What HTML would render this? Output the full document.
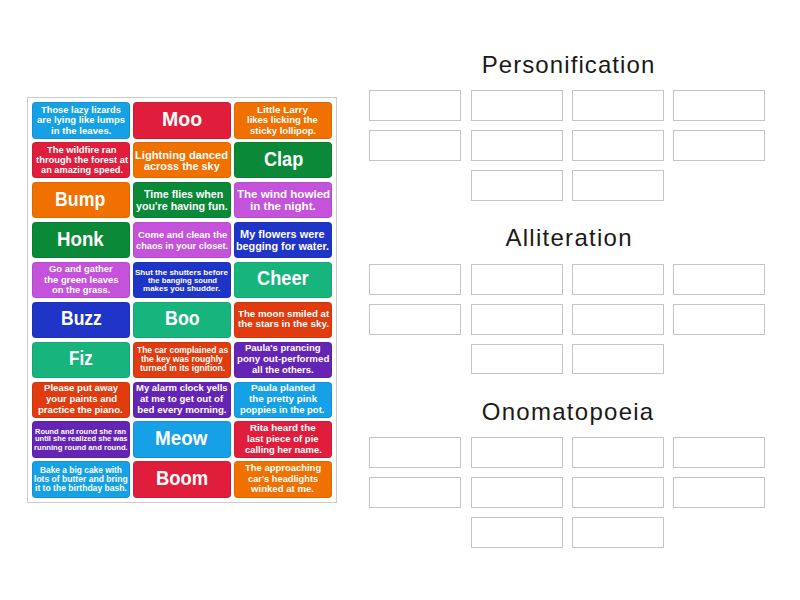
<!DOCTYPE html>
<html><head><meta charset="utf-8"><style>
html,body{margin:0;padding:0;background:#fff;width:800px;height:600px;overflow:hidden;position:relative;font-family:"Liberation Sans",sans-serif}
.p{position:absolute;left:27px;top:97px;width:308px;height:404px;border:1px solid #cccccc}
.t{position:absolute;width:98px;height:36.5px;border-radius:4px;box-shadow:inset 0 0 0 1px rgba(0,0,0,0.08)}
.x{position:absolute;line-height:normal;font-weight:bold;color:#fff;white-space:nowrap;transform-origin:0 0}
.b{position:absolute;width:90px;height:29px;border:1px solid #c4c4c4}
.ti{position:absolute;left:0;width:396px;text-align:center;font-size:24px;line-height:30px;color:#1a1a1a;letter-spacing:1.45px;text-indent:1.45px}
</style></head><body>
<div class="p"></div>
<div class="t" style="left:32px;top:102.0px;background:#16a0e6"></div><div class="t" style="left:133px;top:102.0px;background:#e01e3c"></div><div class="t" style="left:234px;top:102.0px;background:#f07000"></div><div class="t" style="left:32px;top:141.93px;background:#e01e3c"></div><div class="t" style="left:133px;top:141.93px;background:#f07000"></div><div class="t" style="left:234px;top:141.93px;background:#0a8938"></div><div class="t" style="left:32px;top:181.86px;background:#f07000"></div><div class="t" style="left:133px;top:181.86px;background:#0a8938"></div><div class="t" style="left:234px;top:181.86px;background:#c552db"></div><div class="t" style="left:32px;top:221.79px;background:#0a8938"></div><div class="t" style="left:133px;top:221.79px;background:#c552db"></div><div class="t" style="left:234px;top:221.79px;background:#1f35c8"></div><div class="t" style="left:32px;top:261.72px;background:#c552db"></div><div class="t" style="left:133px;top:261.72px;background:#1f35c8"></div><div class="t" style="left:234px;top:261.72px;background:#18b47e"></div><div class="t" style="left:32px;top:301.65px;background:#1f35c8"></div><div class="t" style="left:133px;top:301.65px;background:#18b47e"></div><div class="t" style="left:234px;top:301.65px;background:#e03c10"></div><div class="t" style="left:32px;top:341.58px;background:#18b47e"></div><div class="t" style="left:133px;top:341.58px;background:#e03c10"></div><div class="t" style="left:234px;top:341.58px;background:#6424b4"></div><div class="t" style="left:32px;top:381.51px;background:#e03c10"></div><div class="t" style="left:133px;top:381.51px;background:#6424b4"></div><div class="t" style="left:234px;top:381.51px;background:#16a0e6"></div><div class="t" style="left:32px;top:421.44px;background:#6424b4"></div><div class="t" style="left:133px;top:421.44px;background:#16a0e6"></div><div class="t" style="left:234px;top:421.44px;background:#e01e3c"></div><div class="t" style="left:32px;top:461.37px;background:#16a0e6"></div><div class="t" style="left:133px;top:461.37px;background:#e01e3c"></div><div class="t" style="left:234px;top:461.37px;background:#f07000"></div>
<div class="x" style="left:41.40px;top:103.60px;font-size:9.64px;transform:scaleX(0.9695)">Those lazy lizards</div><div class="x" style="left:37.30px;top:114.20px;font-size:9.64px;transform:scaleX(0.9854)">are lying like lumps</div><div class="x" style="left:51.00px;top:124.85px;font-size:9.64px;transform:scaleX(1.0000)">in the leaves.</div><div class="x" style="left:162.13px;top:108.10px;font-size:20px;transform:scaleX(0.9744)">Moo</div><div class="x" style="left:256.97px;top:103.60px;font-size:9.6px;transform:scaleX(1.0271)">Little Larry</div><div class="x" style="left:247.01px;top:114.30px;font-size:9.6px;transform:scaleX(0.9900)">likes licking the</div><div class="x" style="left:249.71px;top:124.90px;font-size:9.6px;transform:scaleX(0.9938)">sticky lollipop.</div><div class="x" style="left:46.80px;top:144.20px;font-size:9.9px;transform:scaleX(0.9514)">The wildfire ran</div><div class="x" style="left:35.60px;top:154.20px;font-size:9.9px;transform:scaleX(0.9552)">through the forest at</div><div class="x" style="left:40.80px;top:164.20px;font-size:9.9px;transform:scaleX(0.9333)">an amazing speed.</div><div class="x" style="left:135.01px;top:148.60px;font-size:11.34px;transform:scaleX(0.9860)">Lightning danced</div><div class="x" style="left:143.70px;top:159.90px;font-size:11.34px;transform:scaleX(0.9620)">across the sky</div><div class="x" style="left:263.69px;top:147.70px;font-size:20px;transform:scaleX(0.9061)">Clap</div><div class="x" style="left:55.11px;top:187.70px;font-size:20px;transform:scaleX(0.8864)">Bump</div><div class="x" style="left:143.70px;top:187.90px;font-size:11px;transform:scaleX(0.9704)">Time flies when</div><div class="x" style="left:136.30px;top:199.90px;font-size:11px;transform:scaleX(0.9723)">you're having fun.</div><div class="x" style="left:237.30px;top:186.90px;font-size:11.7px;transform:scaleX(0.9892)">The wind howled</div><div class="x" style="left:249.71px;top:198.90px;font-size:11.7px;transform:scaleX(0.9938)">in the night.</div><div class="x" style="left:57.07px;top:228.25px;font-size:20px;transform:scaleX(0.9337)">Honk</div><div class="x" style="left:137.70px;top:228.90px;font-size:9.83px;transform:scaleX(0.9602)">Come and clean the</div><div class="x" style="left:136.30px;top:239.60px;font-size:9.83px;transform:scaleX(0.9423)">chaos in your closet.</div><div class="x" style="left:240.30px;top:227.90px;font-size:11px;transform:scaleX(0.9964)">My flowers were</div><div class="x" style="left:236.32px;top:239.90px;font-size:11px;transform:scaleX(0.9828)">begging for water.</div><div class="x" style="left:48.70px;top:262.90px;font-size:9.7px;transform:scaleX(0.9697)">Go and gather</div><div class="x" style="left:44.00px;top:273.60px;font-size:9.7px;transform:scaleX(0.9829)">the green leaves</div><div class="x" style="left:52.00px;top:284.30px;font-size:9.7px;transform:scaleX(0.9667)">on the grass.</div><div class="x" style="left:135.31px;top:267.60px;font-size:8.1px;transform:scaleX(0.9935)">Shut the shutters before</div><div class="x" style="left:148.30px;top:276.30px;font-size:8.1px;transform:scaleX(0.9542)">the banging sound</div><div class="x" style="left:143.31px;top:284.30px;font-size:8.1px;transform:scaleX(0.9921)">makes you shudder.</div><div class="x" style="left:256.99px;top:267.35px;font-size:20px;transform:scaleX(0.9107)">Cheer</div><div class="x" style="left:60.62px;top:307.35px;font-size:20px;transform:scaleX(0.8756)">Buzz</div><div class="x" style="left:165.01px;top:307.35px;font-size:20px;transform:scaleX(0.8919)">Boo</div><div class="x" style="left:238.00px;top:308.30px;font-size:9.86px;transform:scaleX(0.9859)">The moon smiled at</div><div class="x" style="left:238.00px;top:318.30px;font-size:9.86px;transform:scaleX(0.9967)">the stars in the sky.</div><div class="x" style="left:69.25px;top:347.00px;font-size:20px;transform:scaleX(0.8519)">Fiz</div><div class="x" style="left:137.00px;top:344.60px;font-size:8.78px;transform:scaleX(0.9649)">The car complained as</div><div class="x" style="left:141.00px;top:353.90px;font-size:8.78px;transform:scaleX(0.9762)">the key was roughly</div><div class="x" style="left:139.70px;top:363.30px;font-size:8.78px;transform:scaleX(0.9837)">turned in its ignition.</div><div class="x" style="left:245.03px;top:342.30px;font-size:9.75px;transform:scaleX(0.9737)">Paula's prancing</div><div class="x" style="left:237.00px;top:352.90px;font-size:9.75px;transform:scaleX(0.9967)">pony out-performed</div><div class="x" style="left:252.00px;top:364.30px;font-size:9.75px;transform:scaleX(0.9730)">all the others.</div><div class="x" style="left:43.53px;top:382.35px;font-size:9.88px;transform:scaleX(0.9707)">Please put away</div><div class="x" style="left:46.00px;top:393.20px;font-size:9.88px;transform:scaleX(0.9685)">your paints and</div><div class="x" style="left:38.23px;top:404.20px;font-size:9.88px;transform:scaleX(0.9709)">practice the piano.</div><div class="x" style="left:136.02px;top:382.35px;font-size:9.68px;transform:scaleX(0.9783)">My alarm clock yells</div><div class="x" style="left:139.70px;top:393.30px;font-size:9.68px;transform:scaleX(0.9917)">at me to get out of</div><div class="x" style="left:137.30px;top:403.60px;font-size:9.68px;transform:scaleX(1.0000)">bed every morning.</div><div class="x" style="left:250.98px;top:382.35px;font-size:9.7px;transform:scaleX(1.0164)">Paula planted</div><div class="x" style="left:249.30px;top:393.00px;font-size:9.7px;transform:scaleX(1.0212)">the pretty pink</div><div class="x" style="left:240.32px;top:403.60px;font-size:9.7px;transform:scaleX(0.9812)">poppies in the pot.</div><div class="x" style="left:35.02px;top:426.50px;font-size:7.65px;transform:scaleX(0.9783)">Round and round she ran</div><div class="x" style="left:35.01px;top:434.35px;font-size:7.65px;transform:scaleX(0.9859)">until she realized she was</div><div class="x" style="left:33.80px;top:443.10px;font-size:7.65px;transform:scaleX(0.9989)">running round and round.</div><div class="x" style="left:155.16px;top:427.00px;font-size:20px;transform:scaleX(0.9418)">Meow</div><div class="x" style="left:249.68px;top:422.30px;font-size:9.7px;transform:scaleX(1.0159)">Rita heard the</div><div class="x" style="left:247.01px;top:432.90px;font-size:9.7px;transform:scaleX(0.9859)">last piece of pie</div><div class="x" style="left:244.70px;top:444.30px;font-size:9.7px;transform:scaleX(0.9696)">calling her name.</div><div class="x" style="left:39.85px;top:464.60px;font-size:8.87px;transform:scaleX(0.9459)">Bake a big cake with</div><div class="x" style="left:34.13px;top:474.20px;font-size:8.87px;transform:scaleX(0.9663)">lots of butter and bring</div><div class="x" style="left:34.73px;top:483.10px;font-size:8.87px;transform:scaleX(0.9677)">it to the birthday bash.</div><div class="x" style="left:155.98px;top:466.80px;font-size:20px;transform:scaleX(0.9200)">Boom</div><div class="x" style="left:245.30px;top:462.30px;font-size:9.67px;transform:scaleX(0.9792)">The approaching</div><div class="x" style="left:248.00px;top:473.20px;font-size:9.67px;transform:scaleX(0.9589)">car's headlights</div><div class="x" style="left:251.30px;top:483.20px;font-size:9.67px;transform:scaleX(0.9952)">winked at me.</div>
<div class="ti" style="top:50px;left:370.0px;letter-spacing:1.09px;text-indent:1.09px">Personification</div><div class="ti" style="top:223px;left:370.5px;letter-spacing:1.27px;text-indent:1.27px">Alliteration</div><div class="ti" style="top:397px;left:369.5px;letter-spacing:1.27px;text-indent:1.27px">Onomatopoeia</div>
<div class="b" style="left:369px;top:90px;height:29px"></div><div class="b" style="left:471px;top:90px;height:29px"></div><div class="b" style="left:572px;top:90px;height:29px"></div><div class="b" style="left:673px;top:90px;height:29px"></div><div class="b" style="left:369px;top:130px;height:29px"></div><div class="b" style="left:471px;top:130px;height:29px"></div><div class="b" style="left:572px;top:130px;height:29px"></div><div class="b" style="left:673px;top:130px;height:29px"></div><div class="b" style="left:471px;top:170px;height:29px"></div><div class="b" style="left:572px;top:170px;height:29px"></div><div class="b" style="left:369px;top:264px;height:29px"></div><div class="b" style="left:471px;top:264px;height:29px"></div><div class="b" style="left:572px;top:264px;height:29px"></div><div class="b" style="left:673px;top:264px;height:29px"></div><div class="b" style="left:369px;top:304px;height:29px"></div><div class="b" style="left:471px;top:304px;height:29px"></div><div class="b" style="left:572px;top:304px;height:29px"></div><div class="b" style="left:673px;top:304px;height:29px"></div><div class="b" style="left:471px;top:344px;height:28px"></div><div class="b" style="left:572px;top:344px;height:28px"></div><div class="b" style="left:369px;top:437px;height:29px"></div><div class="b" style="left:471px;top:437px;height:29px"></div><div class="b" style="left:572px;top:437px;height:29px"></div><div class="b" style="left:673px;top:437px;height:29px"></div><div class="b" style="left:369px;top:477px;height:29px"></div><div class="b" style="left:471px;top:477px;height:29px"></div><div class="b" style="left:572px;top:477px;height:29px"></div><div class="b" style="left:673px;top:477px;height:29px"></div><div class="b" style="left:471px;top:517px;height:29px"></div><div class="b" style="left:572px;top:517px;height:29px"></div>
</body></html>
